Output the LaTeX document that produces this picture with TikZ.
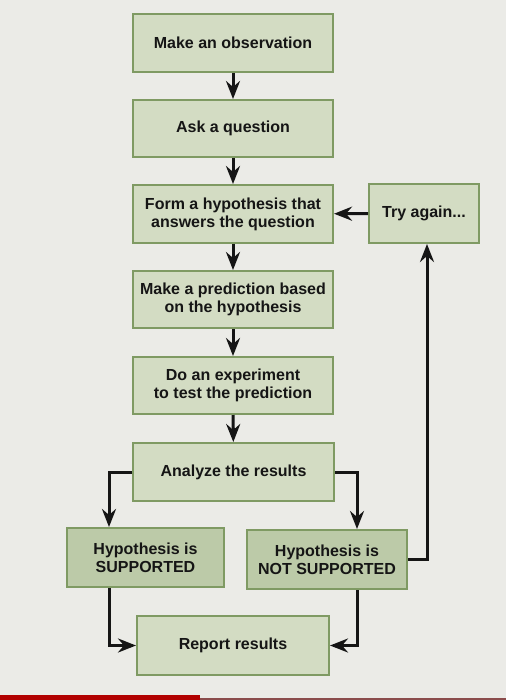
\documentclass[tikz,border=0pt]{standalone}
\usepackage{fontspec}
\setmainfont{Liberation Sans}
\usetikzlibrary{arrows.meta}
\definecolor{bg}{HTML}{EBEBE7}
\definecolor{boxfill}{HTML}{D3DCC3}
\definecolor{boxdark}{HTML}{BCCAA8}
\definecolor{boxline}{HTML}{7F9A63}
\definecolor{ink}{HTML}{151515}
\tikzset{
  stepbox/.style={draw=boxline, line width=2pt, fill=boxfill, rectangle,
    inner sep=0pt, align=center, text=ink,
    font=\fontsize{16}{18}\selectfont\bfseries},
  darkbox/.style={stepbox, fill=boxdark},
  conn/.style={draw=ink, line width=3pt, -{Stealth[length=18pt,width=14pt,inset=6pt]}},
}
\begin{document}
\begin{tikzpicture}[x=1pt,y=-1pt]
\fill[bg] (0,0) rectangle (506,700);
\useasboundingbox (0,0) rectangle (506,700);
\fill[red!70!black] (0,695) rectangle (200,700);
\fill[red!35!black!70] (200,697.5) rectangle (506,700);

\node[stepbox, minimum width=200pt, minimum height=58pt] (b1) at (233,43) {Make an observation};
\node[stepbox, minimum width=200pt, minimum height=57pt] (b2) at (233,128.5) {Ask a question};
\node[stepbox, minimum width=200pt, minimum height=58pt] (b3) at (233,214) {Form a hypothesis that\\answers the question};
\node[stepbox, minimum width=110pt, minimum height=59pt] (try) at (424,213.5) {Try again...};
\node[stepbox, minimum width=200pt, minimum height=57pt] (b4) at (233,299.5) {Make a prediction based\\on the hypothesis};
\node[stepbox, minimum width=200pt, minimum height=57pt] (b5) at (233,385.5) {Do an experiment\\to test the prediction};
\node[stepbox, minimum width=201pt, minimum height=58pt] (b6) at (233.5,472) {Analyze the results};
\node[darkbox, minimum width=157pt, minimum height=59pt] (sup) at (145.5,557.5) {Hypothesis is\\SUPPORTED};
\node[darkbox, minimum width=160pt, minimum height=59pt] (ns) at (327,559.5) {Hypothesis is\\NOT SUPPORTED};
\node[stepbox, minimum width=192pt, minimum height=59pt] (rep) at (233,645.5) {Report results};

\draw[conn] (b1) -- (b2);
\draw[conn] (b2) -- (b3);
\draw[conn] (b3) -- (b4);
\draw[conn] (b4) -- (b5);
\draw[conn] (b5) -- (b6);
\draw[conn] (try) -- (b3);
\draw[conn] (b6.west) -| ([xshift=-36.5pt]sup.north);
\draw[conn] (b6.east) -| ([xshift=30pt]ns.north);
\draw[conn] ([xshift=-36.5pt]sup.south) |- (rep.west);
\draw[conn] ([xshift=30pt]ns.south) |- (rep.east);
\draw[conn] (ns.east) -| ([xshift=3pt]try.south);
\end{tikzpicture}
\end{document}
